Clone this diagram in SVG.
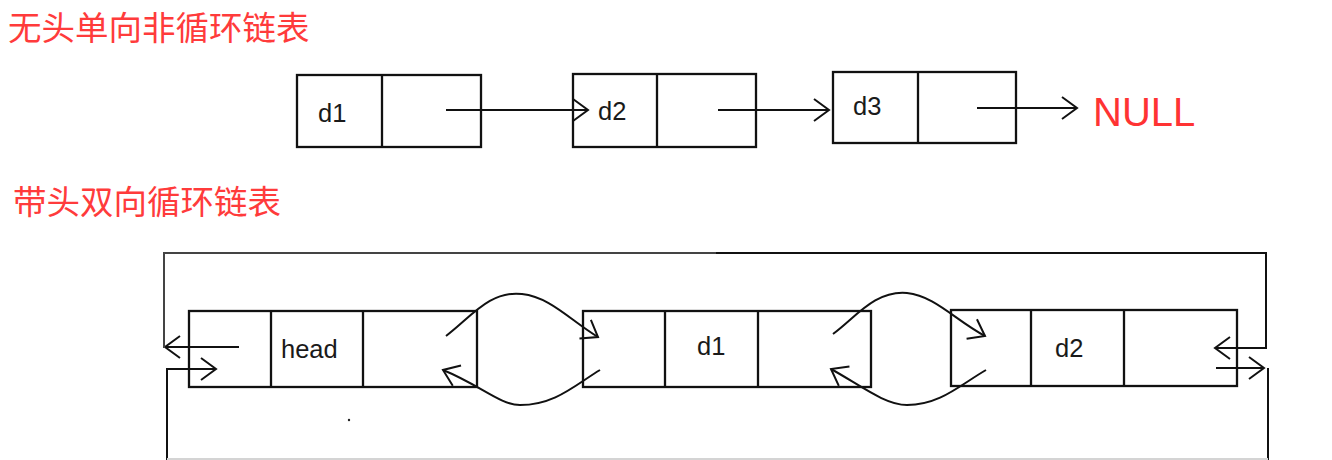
<svg xmlns="http://www.w3.org/2000/svg" width="1332" height="460" viewBox="0 0 1332 460">
<style>
.title{font-family:"Noto Sans CJK SC","Noto Sans",sans-serif;font-size:33.5px;fill:#ff3b3b}
.lbl{font-family:"Liberation Sans",Arial,sans-serif;font-size:25.5px;fill:#1a1a1a}
.null{font-family:"Liberation Sans",Arial,sans-serif;font-size:40px;fill:#ff3333}
.box{fill:#fff;stroke:#111;stroke-width:2.3}
.div{stroke:#111;stroke-width:2.3}
.con{fill:none;stroke:#111;stroke-width:2}
</style>
<defs>
<marker id="arr" markerUnits="userSpaceOnUse" viewBox="-20 -14 24 28" markerWidth="24" markerHeight="28" refX="0" refY="0" orient="auto" overflow="visible">
<path d="M-15,-11 L0,0 L-15,11" fill="none" stroke="#111" stroke-width="2"/>
</marker>
</defs>
<rect width="1332" height="460" fill="#fff"/>
<text class="title" x="8" y="40">无头单向非循环链表</text>
<text class="title" x="13" y="214">带头双向循环链表</text>

<g id="s1">
<rect class="box" x="297" y="75" width="184" height="72"/>
<line class="div" x1="382" y1="75" x2="382" y2="148"/>
<text class="lbl" x="318" y="122">d1</text>
</g>
<g id="s2">
<rect class="box" x="573" y="74" width="183" height="73"/>
<line class="div" x1="657" y1="74" x2="657" y2="148"/>
<text class="lbl" x="598" y="120">d2</text>
</g>
<g id="s3">
<rect class="box" x="833" y="72" width="183" height="71"/>
<line class="div" x1="918" y1="72" x2="918" y2="144"/>
<text class="lbl" x="853" y="115">d3</text>
</g>
<g id="null">
<text class="null" x="1093" y="126">NULL</text>
</g>

<g id="head">
<rect class="box" x="189" y="311" width="288" height="76"/>
<line class="div" x1="271" y1="311" x2="271" y2="387"/>
<line class="div" x1="363" y1="311" x2="363" y2="388"/>
<text class="lbl" x="281" y="358">head</text>
</g>
<g id="d1">
<rect class="box" x="583" y="311" width="288" height="76"/>
<line class="div" x1="665" y1="311" x2="665" y2="387"/>
<line class="div" x1="758" y1="311" x2="758" y2="388"/>
<text class="lbl" x="697" y="355">d1</text>
</g>
<g id="d2">
<rect class="box" x="951" y="310" width="286" height="76"/>
<line class="div" x1="1031" y1="310" x2="1031" y2="386"/>
<line class="div" x1="1124" y1="310" x2="1124" y2="387"/>
<text class="lbl" x="1055" y="357">d2</text>
</g>

<g id="connectors">
<line class="con" x1="446" y1="110" x2="588" y2="110" marker-end="url(#arr)"/>
<line class="con" x1="718" y1="110" x2="829" y2="110" marker-end="url(#arr)"/>
<line class="con" x1="977" y1="108" x2="1077" y2="108" marker-end="url(#arr)"/>

<path class="con" d="M446,336 C470,318 490,290 522,294 C550,297 570,320 598,337" marker-end="url(#arr)"/>
<path class="con" d="M600,370 C575,385 555,405 520,405 C500,405 480,385 443,370" marker-end="url(#arr)"/>
<path class="con" d="M833,334 C855,318 875,290 907,293 C935,296 955,320 985,336" marker-end="url(#arr)"/>
<path class="con" d="M986,370 C960,385 940,405 907,405 C885,405 860,385 831,369" marker-end="url(#arr)"/>

<line class="con" x1="239" y1="347" x2="165" y2="347" marker-end="url(#arr)"/>
<path d="M164,348 L164,253 L717,253" fill="none" stroke="#444" stroke-width="2"/>
<path class="con" d="M716,253 L1266,253 L1266,348 L1215,348" marker-end="url(#arr)"/>

<path class="con" d="M167,460 L167,369 L216,369" marker-end="url(#arr)"/>
<line class="con" x1="1216" y1="368" x2="1264" y2="368" marker-end="url(#arr)"/>
<line class="con" x1="1268" y1="368" x2="1268" y2="460"/>
<line x1="167" y1="459" x2="1268" y2="459" stroke="#d4d4d4" stroke-width="2"/>
<circle cx="349" cy="420" r="1.2" fill="#222"/>
</g>
</svg>
